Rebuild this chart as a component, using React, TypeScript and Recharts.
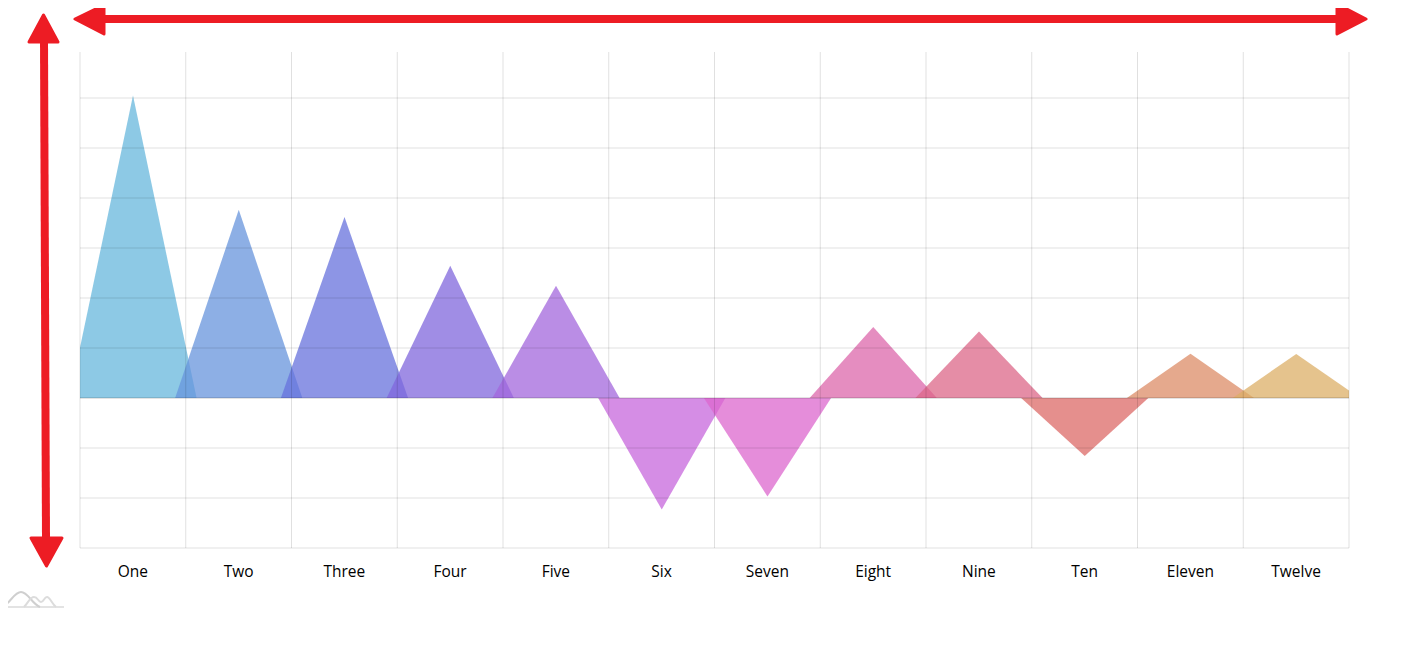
import React from "react";
import { BarChart, Bar, XAxis, YAxis, Cell, ReferenceLine } from "recharts";

const categories = ["One", "Two", "Three", "Four", "Five", "Six", "Seven", "Eight", "Nine", "Ten", "Eleven", "Twelve"];
const values = [3025, 1882, 1809, 1322, 1122, -1114, -984, 711, 665, -580, 443, 441];
const palette = [
  "#67b7dc", "#6794dc", "#6771dc", "#8067dc", "#a367dc", "#c767dc",
  "#dc67ce", "#dc67ab", "#dc6788", "#dc6967", "#dc8c67", "#dcaf67",
];
const gridTicks = [-1500, -1000, -500, 500, 1000, 1500, 2000, 2500, 3000];

const data = categories.map((name, i) => ({ name, value: values[i] }));

const W = 1402;
const H = 648;
const M = { top: 52, right: 53, bottom: 70, left: 80 };
const X_AXIS_H = 30;
const PLOT = { x: M.left, y: M.top, w: W - M.left - M.right, h: H - M.top - M.bottom - X_AXIS_H };

const RED = "#ed1c24";
const GRID = { stroke: "#000", strokeOpacity: 0.12 };

// triangle column, a bit wider than its category (like amCharts width 120%)
const Triangle = (props: any) => {
  const { x, y, width, height, fill, payload, index } = props;
  if (x == null || y == null) return null;
  const spread = width * 0.1;
  const top = Math.min(y, y + height);
  const bottom = Math.max(y, y + height);
  const up = payload.value >= 0;
  const tip = up ? top : bottom;
  const base = up ? bottom : top;
  const pts = `${x - spread},${base} ${x + width / 2},${tip} ${x + width + spread},${base}`;
  const id = `tri-clip-${index}`;
  return (
    <g>
      <clipPath id={id}>
        <rect x={PLOT.x} y={PLOT.y} width={PLOT.w} height={PLOT.h} />
      </clipPath>
      <polygon points={pts} fill={fill} fillOpacity={0.75} clipPath={`url(#${id})`} />
    </g>
  );
};

const Arrows = () => (
  <svg width={W} height={H} style={{ position: "absolute", left: 0, top: 0, pointerEvents: "none" }}>
    <g fill={RED} stroke={RED} strokeLinejoin="round">
      <line x1={100} y1={19} x2={1340} y2={19} strokeWidth={8} />
      <polygon points="75,19 104,5 104,34" strokeWidth={3} />
      <polygon points="1366,19 1337,4 1337,34" strokeWidth={3} />
      <line x1={44} y1={40} x2={46} y2={540} strokeWidth={8} />
      <polygon points="43.5,15 29,42 58,42" strokeWidth={3} />
      <polygon points="46.5,566 31,538 62,538" strokeWidth={3} />
    </g>
    <g fill="none" strokeWidth={2}>
      <line x1={0} y1={607} x2={64} y2={607} stroke="#e3e3e3" />
      <path d="M2,607 C10,604 14,592 21,592 C28,592 32,604 40,607" stroke="#cfcfcf" />
      <path d="M24,607 C28,603 30,597 34,597 C38,597 38,602 41,602 C44,602 44,597 47,597 C50,597 52,604 56,607" stroke="#dcdcdc" />
    </g>
  </svg>
);

export default function App() {
  return (
    <div style={{ position: "relative", width: W, height: H, marginLeft: -8, marginTop: -8, background: "#fff" }}>
      <BarChart width={W} height={H} data={data} barCategoryGap={0} margin={M}>
        <XAxis
          dataKey="name"
          height={X_AXIS_H}
          tickLine={false}
          axisLine={false}
          tickMargin={12}
          interval={0}
          tick={{ fill: "#000", fontSize: 15.5, fontFamily: "Open Sans" }}
        />
        <YAxis hide domain={[-1500, 3460]} allowDataOverflow />
        <Bar dataKey="value" shape={<Triangle />} isAnimationActive={false}>
          {data.map((entry, index) => (
            <Cell key={`cell-${index}`} fill={palette[index]} />
          ))}
        </Bar>
        {gridTicks.map((t) => (
          <ReferenceLine key={`h-${t}`} y={t} {...GRID} />
        ))}
        {categories.map((c) => (
          <ReferenceLine key={`v-${c}`} x={c} position="start" {...GRID} />
        ))}
        <ReferenceLine x={categories[categories.length - 1]} position="end" {...GRID} />
        <ReferenceLine y={0} stroke="#000" strokeOpacity={0.22} />
      </BarChart>
      <Arrows />
    </div>
  );
}
